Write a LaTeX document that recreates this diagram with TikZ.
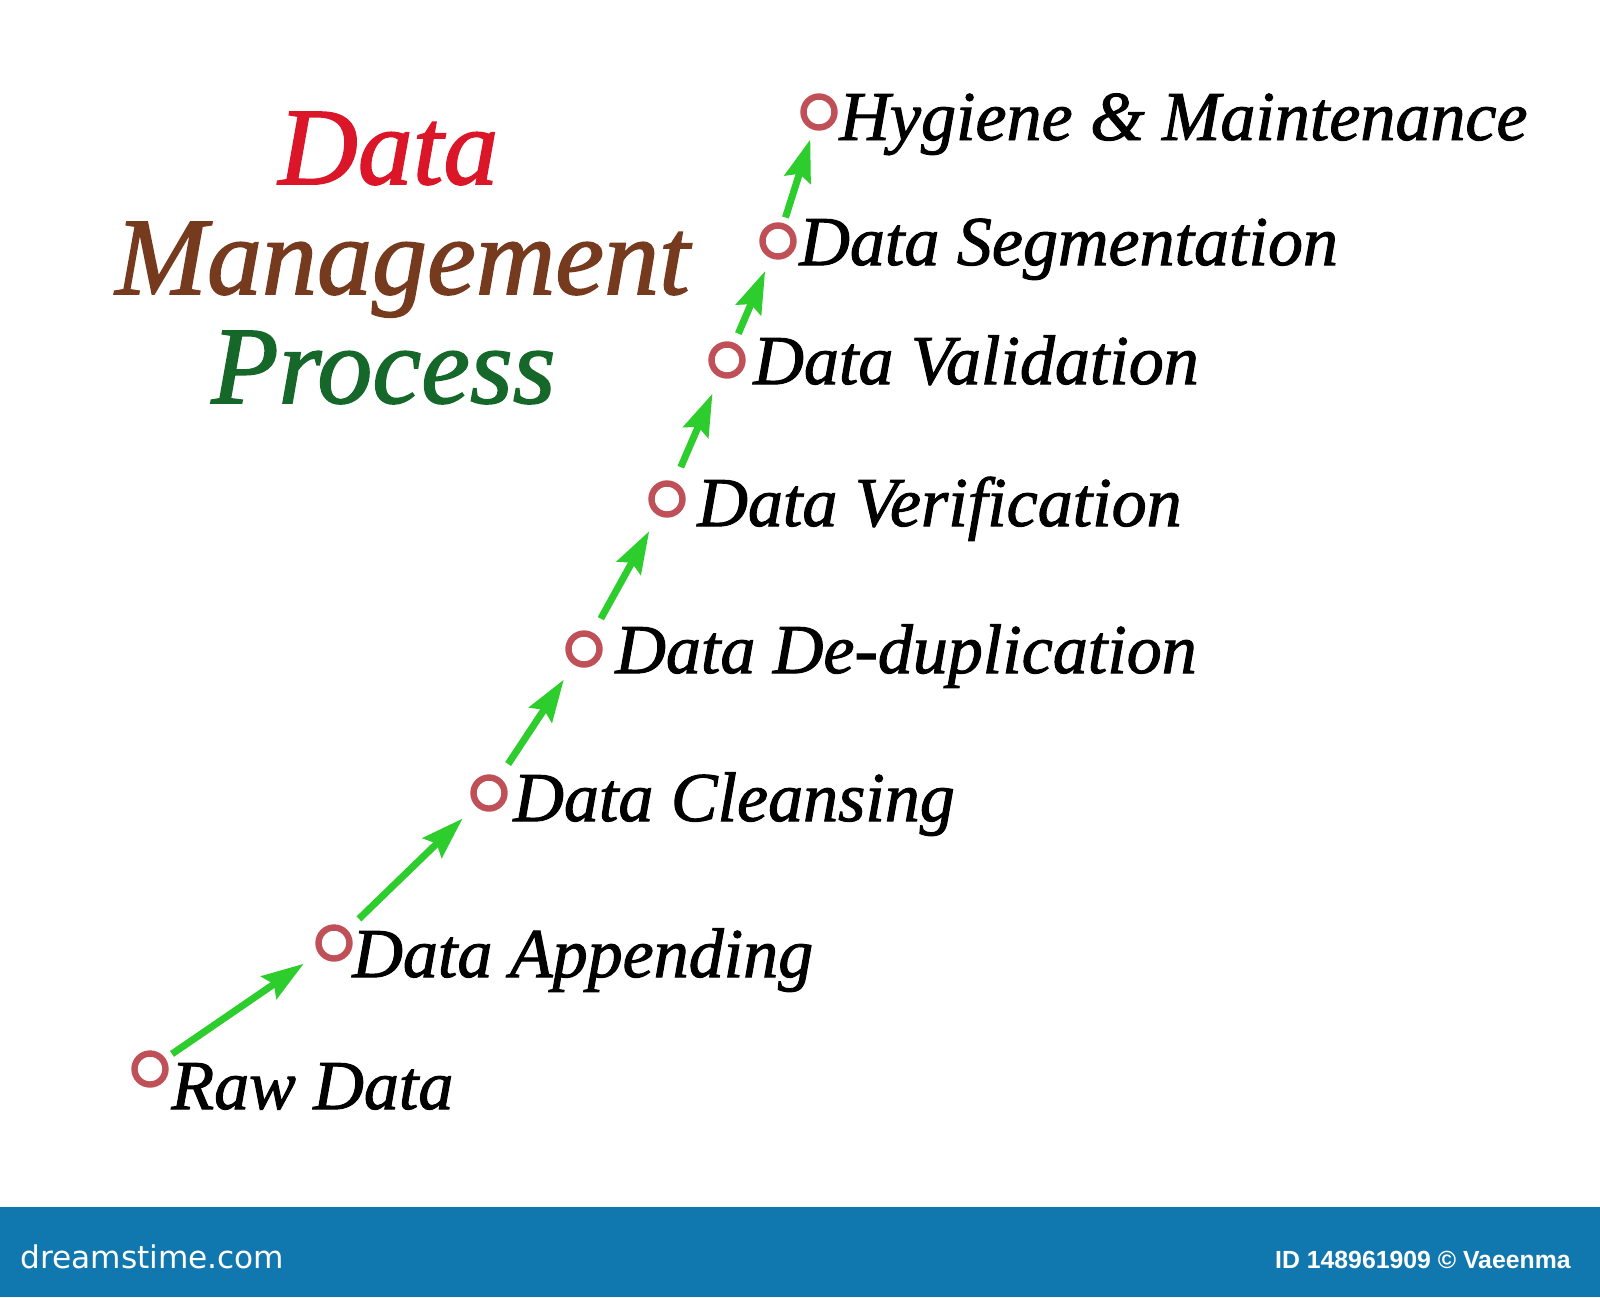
\documentclass[tikz,border=0pt]{standalone}
\usepackage{fontspec}
\setmainfont{Liberation Serif}
\newfontfamily\heavyitalic{Liberation Serif Italic}[FakeBold=1.4]
\newfontfamily\bannerfont{Liberation Sans}
\newfontfamily\logofont{DejaVu Sans}
\usetikzlibrary{arrows.meta, positioning}

\definecolor{ringred}{RGB}{192,80,88}
\definecolor{stepgreen}{RGB}{45,205,45}
\definecolor{titlered}{RGB}{218,22,40}
\definecolor{titlebrown}{RGB}{118,58,30}
\definecolor{titlegreen}{RGB}{22,104,42}
\definecolor{bannerblue}{RGB}{17,119,175}

\begin{document}
\begin{tikzpicture}[
    x=0.5pt, y=-0.5pt,
    ring/.style={circle, draw=ringred, line width=3.2pt, minimum size=15.5pt, inner sep=0pt, fill=white},
    steplabel/.style={anchor=base west, inner sep=0pt, font=\heavyitalic\fontsize{35pt}{35pt}\selectfont},
    titleline/.style={anchor=base west, inner sep=0pt, font=\heavyitalic\fontsize{55pt}{55pt}\selectfont},
    arrow/.style={stepgreen, line width=3.5pt, -{Stealth[length=21pt, width=13.5pt, inset=3pt]}, shorten <=8pt, shorten >=9pt}
]
\useasboundingbox (0,0) rectangle (1600,1297);
\fill[white] (0,0) rectangle (1600,1297);

\node[titleline, text=titlered] (title1) at (278,184) {Data};
\node[titleline, text=titlebrown] (title2) at (115,294) {Management};
\node[titleline, text=titlegreen] (title3) at (211,403) {Process};

\node[ring] (raw) at (150,1069) {};
\node[ring] (append) at (334,943) {};
\node[ring] (cleanse) at (489,793) {};
\node[ring] (dedup) at (584,649) {};
\node[ring] (verify) at (667,499) {};
\node[ring] (valid) at (727,360) {};
\node[ring] (segment) at (778,241) {};
\node[ring] (hygiene) at (819,112) {};

\node[steplabel] (raw-text) at (171,1109) {Raw Data};
\node[steplabel] (append-text) at (352,977) {Data Appending};
\node[steplabel] (cleanse-text) at (513,821) {Data Cleansing};
\node[steplabel] (dedup-text) at (615,673) {Data De-duplication};
\node[steplabel] (verify-text) at (697,526) {Data Verification};
\node[steplabel] (valid-text) at (753,384) {Data Validation};
\node[steplabel] (segment-text) at (799,265) {Data Segmentation};
\node[steplabel] (hygiene-text) at (839,140) {Hygiene \& Maintenance};

\draw[arrow, shorten <=4pt] (raw) -- (append);
\draw[arrow] (append) -- (cleanse);
\draw[arrow] (cleanse) -- (dedup);
\draw[arrow] (dedup) -- (verify);
\draw[arrow] (verify) -- (valid);
\draw[arrow, shorten <=5pt, shorten >=7pt] (valid) -- (segment);
\draw[arrow, shorten <=3pt, shorten >=5pt] (segment) -- (hygiene);

\fill[bannerblue] (0,1207) rectangle (1600,1297);
\node[anchor=base west, inner sep=0pt, text=white, font=\logofont\fontsize{15.6pt}{15.6pt}\selectfont] (logo) at (20,1268) {dreamstime.com};
\node[anchor=base east, inner sep=0pt, text=white, font=\bannerfont\bfseries\fontsize{12.4pt}{12.4pt}\selectfont] (credit) at (1571,1268) {ID 148961909 © Vaeenma};
\end{tikzpicture}
\end{document}
